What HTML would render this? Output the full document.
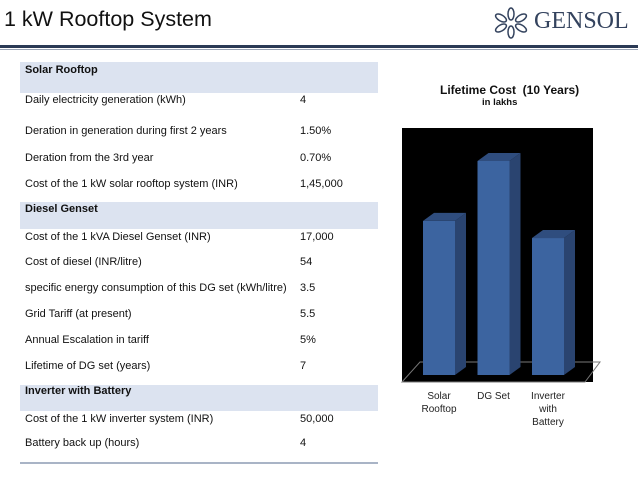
<!DOCTYPE html>
<html><head><meta charset="utf-8"><style>
body{margin:0;width:638px;height:478px;background:#fff;position:relative;overflow:hidden;font-family:"Liberation Sans",Arial,sans-serif;}
.t{position:absolute;font-size:11px;color:#111;white-space:nowrap;}
.b{font-weight:bold;}
.sh{position:absolute;left:20px;width:358px;background:#dce3f0;}
</style></head><body>
<div style="position:absolute;left:4px;top:7px;font-size:21.5px;color:#111;">1 kW Rooftop System</div>
<div style="position:absolute;left:492px;top:6px;height:34px;">
<svg width="38" height="34" style="position:absolute;left:0;top:0"><g fill="none" stroke="#34435e" stroke-width="1.5">
<ellipse cx="19" cy="8" rx="3" ry="6"/><ellipse cx="19" cy="26" rx="3" ry="6"/>
<ellipse cx="9" cy="12" rx="3" ry="6" transform="rotate(-60 9 12)"/><ellipse cx="29" cy="12" rx="3" ry="6" transform="rotate(60 29 12)"/>
<ellipse cx="9" cy="22" rx="3" ry="6" transform="rotate(60 9 22)"/><ellipse cx="29" cy="22" rx="3" ry="6" transform="rotate(-60 29 22)"/></g></svg>
<span style="position:absolute;left:42px;top:2px;font-family:'Liberation Serif',serif;font-size:24px;color:#34435e;">GENSOL</span></div>
<div style="position:absolute;left:0;top:45px;width:638px;height:3px;background:#2b3a55;"></div>
<div style="position:absolute;left:0;top:49px;width:638px;height:1px;background:#9aa4b5;"></div>

<div class="sh" style="top:62px;height:31px"></div>
<div class="sh" style="top:202px;height:27px"></div>
<div class="sh" style="top:385px;height:26px"></div>
<div style="position:absolute;left:20px;top:462px;width:358px;height:2px;background:#a9b4c6;"></div>

<div class="t b" style="left:25px;top:64px">Solar Rooftop</div>
<div class="t" style="left:25px;top:94px">Daily electricity generation (kWh)</div><div class="t" style="left:300px;top:94px">4</div>
<div class="t" style="left:25px;top:125px">Deration in generation during first 2 years</div><div class="t" style="left:300px;top:125px">1.50%</div>
<div class="t" style="left:25px;top:152px">Deration from the 3rd year</div><div class="t" style="left:300px;top:152px">0.70%</div>
<div class="t" style="left:25px;top:178px">Cost of the 1 kW solar rooftop system (INR)</div><div class="t" style="left:300px;top:178px">1,45,000</div>
<div class="t b" style="left:25px;top:203px">Diesel Genset</div>
<div class="t" style="left:25px;top:231px">Cost of the 1 kVA Diesel Genset (INR)</div><div class="t" style="left:300px;top:231px">17,000</div>
<div class="t" style="left:25px;top:256px">Cost of diesel (INR/litre)</div><div class="t" style="left:300px;top:256px">54</div>
<div class="t" style="left:25px;top:282px">specific energy consumption of this DG set (kWh/litre)</div><div class="t" style="left:300px;top:282px">3.5</div>
<div class="t" style="left:25px;top:308px">Grid Tariff (at present)</div><div class="t" style="left:300px;top:308px">5.5</div>
<div class="t" style="left:25px;top:334px">Annual Escalation in tariff</div><div class="t" style="left:300px;top:334px">5%</div>
<div class="t" style="left:25px;top:360px">Lifetime of DG set (years)</div><div class="t" style="left:300px;top:360px">7</div>
<div class="t b" style="left:25px;top:385px">Inverter with Battery</div>
<div class="t" style="left:25px;top:413px">Cost of the 1 kW inverter system (INR)</div><div class="t" style="left:300px;top:413px">50,000</div>
<div class="t" style="left:25px;top:437px">Battery back up (hours)</div><div class="t" style="left:300px;top:437px">4</div>

<div class="t b" style="left:440px;top:83px;font-size:12px">Lifetime Cost&nbsp; (10 Years)</div>
<div class="t b" style="left:482px;top:97px;font-size:9.5px">in lakhs</div>
<svg id="chart" width="638" height="478" style="position:absolute;left:0;top:0"></svg>
<script>
const categories=[["Solar","Rooftop"],["DG Set"],["Inverter","with","Battery"]];
const values=[3.6,5.0,3.2];
const svg=document.getElementById('chart');
const NS='http://www.w3.org/2000/svg';
function mk(tag,attrs){const e=document.createElementNS(NS,tag);for(const k in attrs)e.setAttribute(k,attrs[k]);svg.appendChild(e);return e;}
const base=375, pxPerUnit=42.8, dx=11, dy=8, bw=32;
function y(v){return base-v*pxPerUnit;}
function xOf(i){return 423+i*54.5;}
const bg=mk('rect',{x:402,y:128,width:191,height:254,fill:'#000'});


const fl=mk('polygon',{points:'402,382 585,382 600,362 420,362',fill:'none',stroke:'#777','stroke-width':1});


values.forEach((v,i)=>{
  const x=xOf(i), t=y(v);
  const side=mk('polygon',{points:`${x+bw},${t} ${x+bw+dx},${t-dy} ${x+bw+dx},${base-dy} ${x+bw},${base}`,fill:'#2a4470'});
  
  
  const top=mk('polygon',{points:`${x},${t} ${x+dx},${t-dy} ${x+bw+dx},${t-dy} ${x+bw},${t}`,fill:'#2f4d7e'});
  
  
  const r=mk('rect',{x:x,y:t,width:bw,height:base-t,fill:'#3c64a0'});
  
  
  categories[i].forEach((ln,j)=>{
    const tx=mk('text',{x:x+bw/2,y:399+j*13,'text-anchor':'middle','font-size':10,'font-family':'Liberation Sans, sans-serif',fill:'#222'});
    tx.textContent=ln;
    
    
  });
});
</script>
</body></html>
